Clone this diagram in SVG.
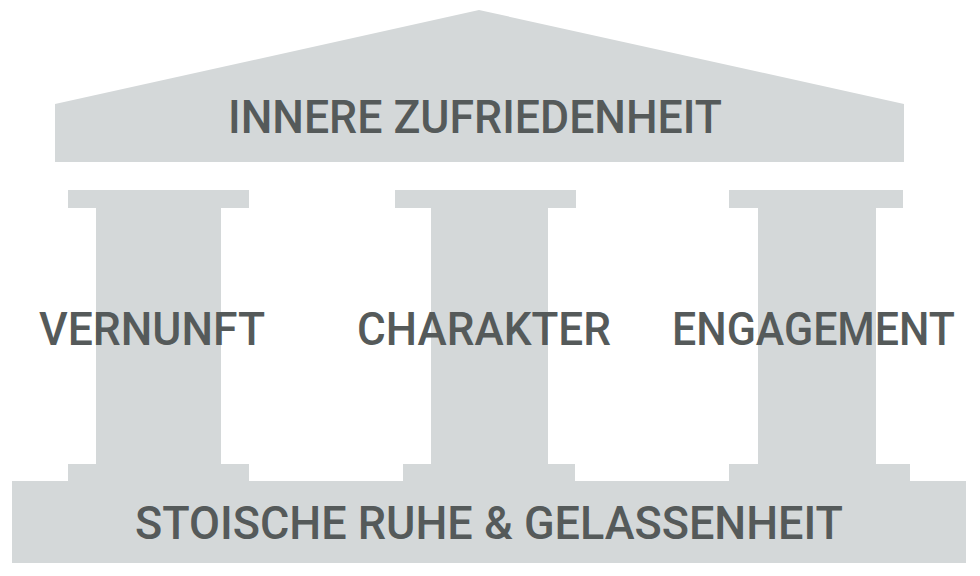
<svg xmlns="http://www.w3.org/2000/svg" width="980" height="576" viewBox="0 0 980 576">
<style>
.s{fill:#d4d8d9}
.t{font-family:Roboto,"Liberation Sans",sans-serif;font-size:46px;font-weight:500;fill:#555a5a}
</style>
<rect width="980" height="576" fill="#ffffff"/>
<g id="roof">
<polygon class="s" points="55,104 479,10 904,104 904,162 55,162"/>
<text class="t" x="228" y="133" textLength="494" lengthAdjust="spacingAndGlyphs">INNERE ZUFRIEDENHEIT</text>
</g>
<g id="base">
<rect class="s" x="12" y="481" width="954" height="82"/>
<text class="t" x="135" y="539" textLength="708" lengthAdjust="spacingAndGlyphs">STOISCHE RUHE &amp; GELASSENHEIT</text>
</g>
<g id="pillar-vernunft">
<rect class="s" x="68" y="190" width="181" height="18"/>
<rect class="s" x="96" y="207" width="125" height="258"/>
<rect class="s" x="68" y="464" width="181" height="18"/>
<text class="t" x="39" y="345" textLength="226" lengthAdjust="spacingAndGlyphs">VERNUNFT</text>
</g>
<g id="pillar-charakter">
<rect class="s" x="395" y="190" width="181" height="18"/>
<rect class="s" x="431" y="207" width="117" height="258"/>
<rect class="s" x="403" y="464" width="172" height="18"/>
<text class="t" x="357" y="345" textLength="254" lengthAdjust="spacingAndGlyphs">CHARAKTER</text>
</g>
<g id="pillar-engagement">
<rect class="s" x="729" y="190" width="174" height="18"/>
<rect class="s" x="758" y="207" width="118" height="258"/>
<rect class="s" x="729" y="464" width="181" height="18"/>
<text class="t" x="672" y="345" textLength="283" lengthAdjust="spacingAndGlyphs">ENGAGEMENT</text>
</g>
<g id="connectors"/>
</svg>
